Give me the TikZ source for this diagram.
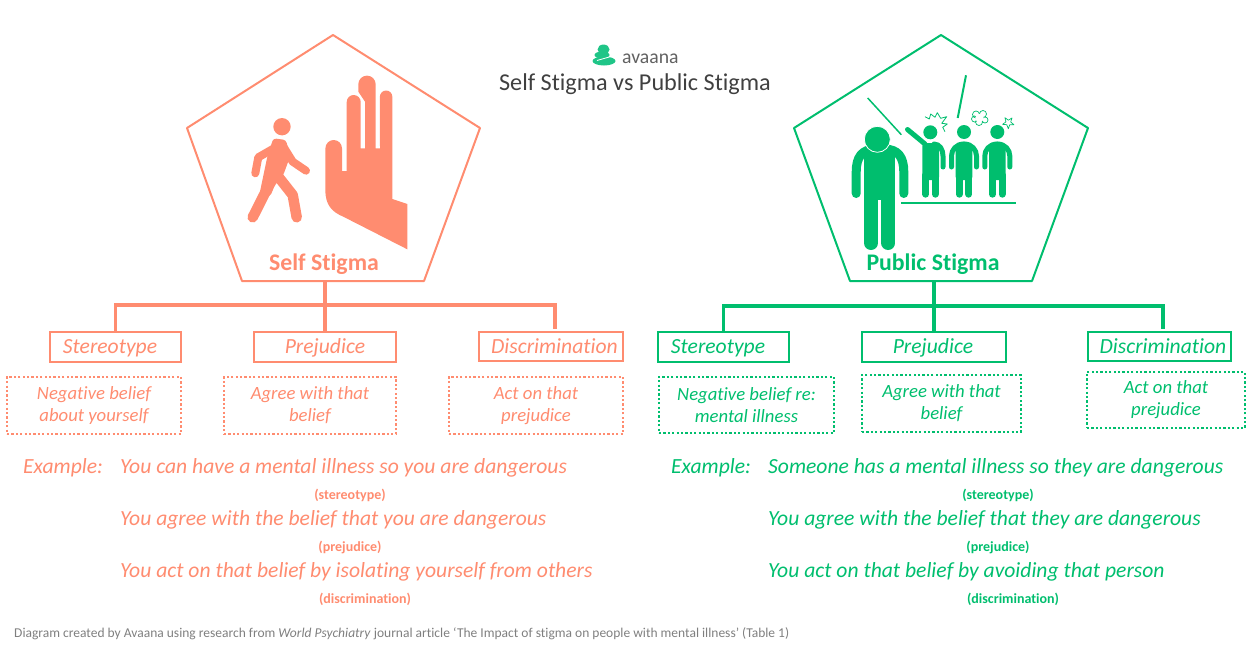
\documentclass[tikz,border=0pt]{standalone}
\usepackage{fontspec}
\setmainfont[Ligatures=NoCommon]{Carlito}
\definecolor{selfcol}{HTML}{FF8C70}
\definecolor{pubcol}{HTML}{00BE6E}
\definecolor{logocol}{HTML}{1FC587}
\definecolor{titlecol}{HTML}{404040}
\definecolor{notecol}{HTML}{7F7F7F}
\tikzset{
  headbox/.style={draw,line width=2.8pt,minimum height=30pt,inner sep=0pt,text height=16pt,text depth=4pt,font=\fontsize{21.6}{24}\selectfont\itshape},
  discbox/.style={headbox,minimum height=29pt,text height=17.5pt},
  defbox/.style={draw,line width=2.8pt,dash pattern=on 2.2pt off 2.2pt,inner sep=0pt,align=center,font=\fontsize{18.7}{22}\selectfont\itshape,execute at begin node=\rule{0pt}{18pt}},
  line/.style={line width=3.4pt},
  exline/.style={anchor=base west,inner sep=0pt,font=\fontsize{21.6}{25}\selectfont\itshape},
  extag/.style={anchor=base,inner sep=0pt,font=\fontsize{14}{16}\selectfont\bfseries},
  pentline/.style={line width=2pt,line join=round},
  limb/.style={line cap=round,line join=round},
}
\begin{document}
\begin{tikzpicture}[x=1pt,y=-1pt]
\useasboundingbox (0,0) rectangle (1258,645);
\node[anchor=base west,inner sep=0pt,text=black!62,font=\fontsize{19.7}{22}\selectfont] (logotext) at (622,63) {avaana};
\fill[logocol] (603.5,49.5) ellipse (6 and 5);
\fill[logocol] (602,55) ellipse (7.5 and 3.5);
\fill[logocol] (604,61) ellipse (11.5 and 4.5);
\draw[white,line width=.8pt] (597,60.5) -- (611,56.5);
\node[anchor=base,inner sep=0pt,text=titlecol,font=\fontsize{24.2}{28}\selectfont] (title) at (635,90) {Self Stigma vs Public Stigma};
% self stigma
\draw[selfcol,pentline] (333,35) -- (480,128) -- (424,281) -- (242,281) -- (187,128) -- cycle;
\fill[selfcol] (282,126.7) circle (8.7);
\fill[selfcol,rounded corners=3pt] (273.3,138.3) -- (286,140) -- (290,156.7) -- (283.3,175) -- (275,185) -- (270,196.7) -- (259.3,195) -- (267.3,156.7) -- cycle;
\draw[selfcol,limb,line width=8pt] (278,146) -- (258.3,157.3) -- (255.3,173.3);
\draw[selfcol,limb,line width=8pt] (283,146) -- (292.7,161.7) -- (306,170.7);
\draw[selfcol,limb,line width=10.5pt] (265,193) -- (252.7,217.3);
\draw[selfcol,limb,line width=10.5pt] (278.3,176.7) -- (292.7,195) -- (296.7,217.3);
\fill[selfcol] (407.3,249.3) -- (407.3,204) -- (392.3,199) -- (392.3,96.7) arc[start angle=0,end angle=-180,radius=6.2]
  -- (380,148.3) -- (375.7,148.3) -- (375.7,84.3) arc[start angle=0,end angle=-180,radius=8.7] -- (358.3,91.7) -- (365,101.7)
  -- (365,148.3) -- (360.7,148.3) -- (360.7,102) arc[start angle=0,end angle=-180,radius=7] -- (346.7,171) -- (342,171)
  -- (342,148.3) arc[start angle=0,end angle=-180,radius=8.3] -- (325.3,190) .. controls (325.3,205) and (332,212) .. (343.3,216.7) -- cycle;
\node[anchor=base,inner sep=0pt,text=selfcol,font=\fontsize{23.8}{26}\selectfont\bfseries] (selfname) at (324,270) {Self Stigma};
\coordinate (selftop) at (325,281);
\coordinate (selfbar) at (325,305);
\node[headbox,selfcol,minimum width=131pt] (selfster) at (115.5,347) {\hspace{-11pt}Stereotype};
\node[headbox,selfcol,minimum width=142pt] (selfprej) at (325,347) {Prejudice};
\node[discbox,selfcol,minimum width=144pt] (selfdisc) at (551,346.5) {\hspace{7pt}Discrimination};
\coordinate (selfdrop) at (555,329);
\draw[selfcol,line] (selftop) -- (selfprej.north);
\draw[selfcol,line] (selfster.north) -- (selfster.north |- selfbar) -- (selfdrop |- selfbar) -- (selfdrop);
\node[defbox,selfcol,minimum width=174pt,minimum height=57pt] (selfsterdef) at (94,405.5) {Negative belief\\about yourself};
\node[defbox,selfcol,minimum width=172pt,minimum height=57pt] (selfprejdef) at (310,405.5) {Agree with that\\belief};
\node[defbox,selfcol,minimum width=174pt,minimum height=57pt] (selfdiscdef) at (536,405.5) {Act on that\\prejudice};
\node[exline,selfcol] (selfex) at (23,473) {Example:};
\node[exline,selfcol] (selfexa) at (120,473) {You can have a mental illness so you are dangerous};
\node[extag,selfcol] (selftaga) at (350,499) {(stereotype)};
\node[exline,selfcol] (selfexb) at (120,525) {You agree with the belief that you are dangerous};
\node[extag,selfcol] (selftagb) at (350,551) {(prejudice)};
\node[exline,selfcol] (selfexc) at (120,577) {You act on that belief by isolating yourself from others};
\node[extag,selfcol] (selftagc) at (365,603) {(discrimination)};
% public stigma
\draw[pubcol,pentline] (941,35) -- (1088,128) -- (1032,281) -- (850,281) -- (794,128) -- cycle;
\draw[pubcol,line width=1.5pt] (867.7,98) -- (901.3,134.7);
\draw[pubcol,line width=2pt] (966,75.3) -- (957.7,118);
\draw[pubcol,line width=1.7pt] (901,203) -- (1015.7,203);
\fill[pubcol] (864,150) rectangle (895.3,200);
\draw[pubcol,limb,line width=14pt] (871,185) -- (871,243);
\draw[pubcol,limb,line width=14pt] (888.3,185) -- (888.3,243);
\draw[pubcol,limb,line width=9pt] (876,149) .. controls (862,149) and (856.2,157) .. (856.2,172) -- (856.2,193.5);
\draw[pubcol,limb,line width=9pt] (884,149) .. controls (898,149) and (903.8,157) .. (903.8,172) -- (903.8,193.5);
\draw[white,fill=pubcol,line width=.8pt] (877.3,139.3) circle (13);
% crowd
\fill[pubcol] (930.3,132.3) circle (7);
\fill[pubcol,rounded corners=3pt] (922.3,143) rectangle (939,180);
\draw[pubcol,limb,line width=7pt] (925.7,175) -- (925.7,194.2);
\draw[pubcol,limb,line width=7pt] (935.3,175) -- (935.3,194.2);
\draw[pubcol,limb,line width=5pt] (907.5,129.5) -- (925,144);
\draw[pubcol,limb,line width=5pt] (934,144) .. controls (940,144) and (943,150) .. (943,156) -- (943,167);
\foreach \px in {964,997.3}{
  \fill[pubcol] (\px,132) circle (7);
  \fill[pubcol,rounded corners=3pt] (\px-8.3,143) rectangle (\px+8.3,180);
  \draw[pubcol,limb,line width=7pt] (\px-4.8,175) -- (\px-4.8,194.2);
  \draw[pubcol,limb,line width=7pt] (\px+4.8,175) -- (\px+4.8,194.2);
  \draw[pubcol,limb,line width=5pt] (\px,144) .. controls (\px-8,144) and (\px-12.5,150) .. (\px-12.5,156) -- (\px-12.5,167);
  \draw[pubcol,limb,line width=5pt] (\px,144) .. controls (\px+8,144) and (\px+12.5,150) .. (\px+12.5,156) -- (\px+12.5,167);
}
\draw[pubcol,line width=.8pt,line join=round] (925,116.7) -- (929.3,119) -- (930.7,114) -- (935,117.3) -- (937.3,112.7) -- (940.7,118.3) -- (946.7,116.7) -- (941.7,123.3) -- (947.3,124) -- (942.7,127.3) -- (945,131.7);
\draw[pubcol,line width=.7pt,fill=white] (976,114.5) circle (3.5) (983,114) circle (3.5) (985,120) circle (3) (979,122) circle (3.5) (974.5,119) circle (3);
\fill[white] (979.5,118) circle (4.2);
\draw[pubcol,line width=.7pt,line join=round] (1008.3,122.7) +(20:6) -- +(55:2.5) -- +(90:6) -- +(127:2.5) -- +(164:6) -- +(199:2.5) -- +(236:6) -- +(270:2.5) -- +(308:6) -- +(344:2.5) -- cycle;
\node[anchor=base,inner sep=0pt,text=pubcol,font=\fontsize{23.8}{26}\selectfont\bfseries] (pubname) at (933,270) {Public Stigma};
\coordinate (pubtop) at (934,281);
\coordinate (pubbar) at (934,306);
\node[headbox,pubcol,minimum width=131pt] (pubster) at (723.5,347) {\hspace{-11pt}Stereotype};
\node[headbox,pubcol,minimum width=144pt] (pubprej) at (934,347) {\hspace{-2pt}Prejudice};
\node[discbox,pubcol,minimum width=143pt] (pubdisc) at (1159.5,346.5) {\hspace{7pt}Discrimination};
\coordinate (pubdrop) at (1163,329);
\draw[pubcol,line] (pubtop) -- (pubprej.north);
\draw[pubcol,line] (pubster.north) -- (pubster.north |- pubbar) -- (pubdrop |- pubbar) -- (pubdrop);
\node[defbox,pubcol,minimum width=175pt,minimum height=56pt] (pubsterdef) at (746.5,405) {Negative belief re:\\mental illness};
\node[defbox,pubcol,minimum width=159pt,minimum height=57pt] (pubprejdef) at (941.5,403.5) {Agree with that\\belief};
\node[defbox,pubcol,minimum width=158pt,minimum height=56pt] (pubdiscdef) at (1166,400) {Act on that\\prejudice};
\node[exline,pubcol] (pubex) at (671,473) {Example:};
\node[exline,pubcol] (pubexa) at (768,473) {Someone has a mental illness so they are dangerous};
\node[extag,pubcol] (pubtaga) at (998,499) {(stereotype)};
\node[exline,pubcol] (pubexb) at (768,525) {You agree with the belief that they are dangerous};
\node[extag,pubcol] (pubtagb) at (998,551) {(prejudice)};
\node[exline,pubcol] (pubexc) at (768,577) {You act on that belief by avoiding that person};
\node[extag,pubcol] (pubtagc) at (1013,603) {(discrimination)};
\node[anchor=base west,inner sep=0pt,text=notecol,font=\fontsize{13.5}{15}\selectfont] (source) at (14,637) {Diagram created by Avaana using research from \textit{World Psychiatry} journal article ‘The Impact of stigma on people with mental illness’ (Table 1)};
\end{tikzpicture}
\end{document}
